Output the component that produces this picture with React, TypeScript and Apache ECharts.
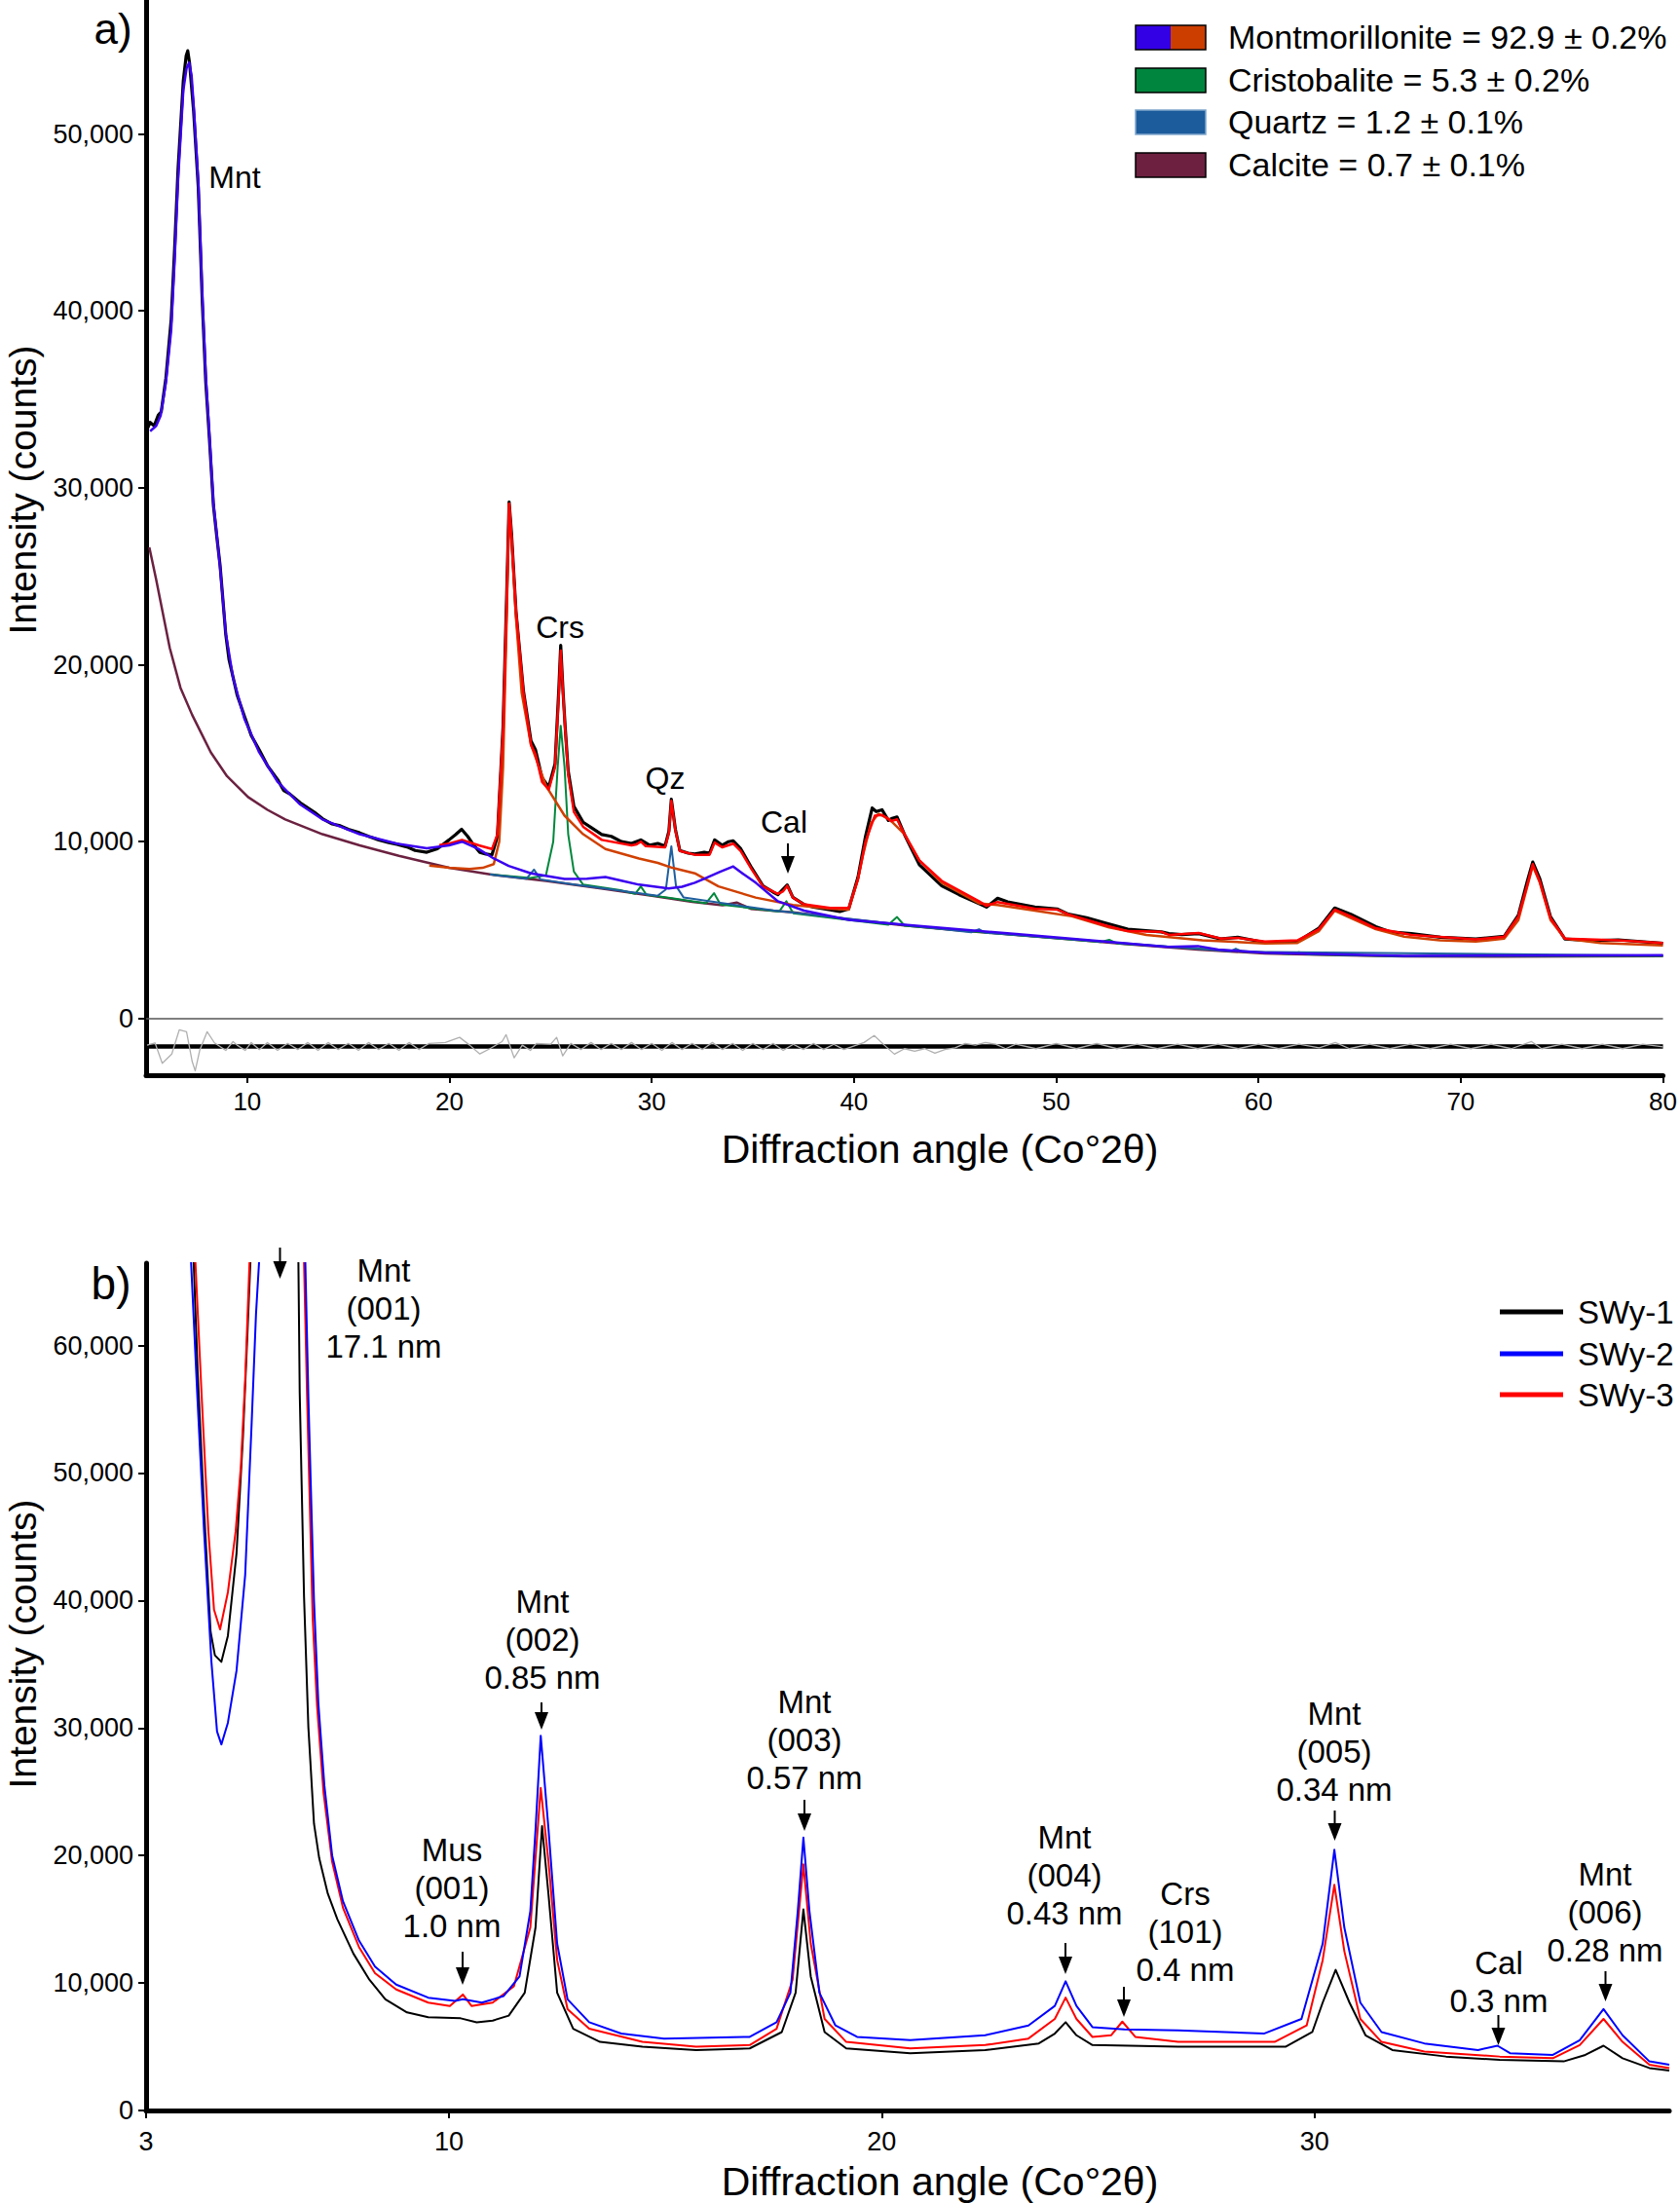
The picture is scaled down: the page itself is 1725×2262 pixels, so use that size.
import React, { useEffect, useRef } from "react";
import * as echarts from "echarts";

const FONT = "'Liberation Sans', Arial, Helvetica, sans-serif";

// ---------------- Panel a data (Co °2θ, counts) ----------------
const xTicksA = [10, 20, 30, 40, 50, 60, 70, 80];
const yTicksA = [0, 10000, 20000, 30000, 40000, 50000];

const observedA: number[][] = [
  [5.05, 33300], [5.2, 33700], [5.4, 33500], [5.6, 34100], [5.75, 34300], [5.98, 36200], [6.24, 39500],
  [6.41, 43500], [6.58, 48000], [6.84, 53000], [6.98, 54400], [7.06, 54700], [7.15, 54000], [7.35, 51300],
  [7.58, 47000], [7.78, 40500], [7.95, 36000], [8.13, 32800], [8.33, 29000], [8.5, 27200], [8.66, 25600],
  [8.94, 21700], [9.1, 20300], [9.3, 19300], [9.5, 18300], [9.86, 17100], [10.2, 16000], [10.59, 15200],
  [11.0, 14300], [11.51, 13500], [11.8, 12900], [12.1, 12700], [12.62, 12200], [13.0, 11900], [13.4, 11600],
  [13.72, 11300], [14.2, 11000], [14.6, 10900], [15.0, 10700], [15.56, 10500], [16.0, 10300], [16.5, 10100],
  [17.0, 9950], [17.4, 9850], [17.9, 9700], [18.3, 9500], [18.88, 9400], [19.4, 9600], [19.98, 10100],
  [20.3, 10400], [20.6, 10700], [20.9, 10300], [21.2, 9800], [21.5, 9400], [21.8, 9300], [22.1, 9250],
  [22.37, 10300], [22.65, 16500], [22.83, 24000], [22.95, 29200], [23.07, 27400], [23.29, 23000],
  [23.66, 18500], [24.03, 15700], [24.25, 15200], [24.58, 13600], [24.91, 13100], [25.22, 14400],
  [25.41, 18700], [25.5, 21100], [25.62, 18400], [25.72, 16500], [25.87, 14000], [26.15, 12000],
  [26.61, 11100], [27.0, 10800], [27.53, 10400], [28.0, 10300], [28.5, 10000], [29.0, 9900], [29.46, 10100],
  [29.9, 9800], [30.3, 9900], [30.66, 9750], [30.85, 10600], [30.97, 12400], [31.17, 10700], [31.39, 9500],
  [31.8, 9350], [32.13, 9300], [32.6, 9400], [32.86, 9350], [33.11, 10100], [33.48, 9800], [33.8, 10000],
  [34.03, 10050], [34.4, 9600], [34.95, 8500], [35.5, 7500], [36.0, 7150], [36.24, 7000], [36.7, 7550],
  [36.98, 6850], [37.53, 6450], [38.0, 6300], [38.82, 6150], [39.3, 6050], [39.74, 6200], [40.2, 8000],
  [40.57, 10300], [40.9, 11900], [41.1, 11700], [41.39, 11800], [41.7, 11200], [41.85, 11300], [42.13, 11400],
  [42.5, 10400], [43.23, 8700], [44.34, 7500], [45.2, 7000], [46.18, 6500], [46.55, 6300], [47.1, 6800],
  [47.6, 6600], [48.94, 6300], [50.04, 6200], [50.6, 5900], [51.5, 5700], [52.44, 5400], [53.54, 5050],
  [55.2, 4900], [55.57, 4800], [56.2, 4750], [57.04, 4800], [58.14, 4500], [58.97, 4600], [60.32, 4300],
  [61.92, 4350], [62.98, 5100], [63.77, 6250], [64.56, 5900], [65.8, 5200], [66.5, 4900], [67.56, 4800],
  [69.0, 4600], [70.74, 4500], [72.15, 4650], [72.85, 5850], [73.3, 7800], [73.56, 8850], [73.91, 7900],
  [74.44, 5750], [75.15, 4500], [76.5, 4400], [77.79, 4450], [80.0, 4250],
];

const calculatedA: number[][] = [
  [19.5, 9800], [19.98, 9890], [20.62, 10100], [21.45, 9790], [22.1, 9580], [22.37, 10420], [22.65, 16310],
  [22.83, 23680], [22.95, 29100], [23.07, 27200], [23.29, 23050], [23.66, 18420], [24.03, 15470],
  [24.25, 14950], [24.58, 13370], [24.91, 12950], [25.22, 14210], [25.41, 18420], [25.5, 20800],
  [25.62, 18300], [25.72, 16370], [25.87, 13790], [26.15, 11680], [26.61, 10840], [27.53, 10100],
  [29.0, 9790], [29.25, 9850], [29.46, 10000], [29.7, 9750], [30.66, 9680], [30.85, 10500], [30.97, 12310],
  [31.17, 10630], [31.39, 9470], [32.13, 9260], [32.86, 9260], [33.11, 9950], [33.48, 9680], [34.03, 9890],
  [34.4, 9470], [34.95, 8420], [35.5, 7470], [36.24, 7050], [36.5, 7200], [36.7, 7510], [36.98, 6840],
  [37.53, 6460], [38.82, 6250], [39.74, 6250], [40.2, 7890], [40.57, 10000], [41.03, 11470], [41.39, 11510],
  [41.85, 11160], [42.13, 11260], [42.5, 10420], [43.23, 8940], [44.34, 7780], [46.18, 6630], [46.55, 6370],
  [47.1, 6590], [48.94, 6210], [50.04, 6160], [50.6, 5890], [52.44, 5260], [53.54, 4940], [55.2, 4900],
  [55.57, 4730], [57.04, 4840], [58.14, 4520], [58.97, 4560], [60.32, 4350], [61.92, 4420], [62.98, 5050],
  [63.77, 6160], [64.56, 5780], [65.8, 5110], [67.56, 4730], [70.74, 4480], [72.15, 4630], [72.85, 5780],
  [73.3, 7600], [73.56, 8730], [73.91, 7750], [74.44, 5680], [75.15, 4520], [77.79, 4420], [80.0, 4270],
];

const montmorillonite1A: number[][] = [
  [5.2, 33200], [5.5, 33500], [5.72, 34080], [5.98, 35950], [6.24, 38900], [6.41, 42830], [6.58, 47350],
  [6.84, 52460], [7.0, 53700], [7.13, 54030], [7.25, 53300], [7.35, 51670], [7.58, 47350], [7.78, 40860],
  [7.95, 36340], [8.13, 33000], [8.33, 29100], [8.5, 27300], [8.66, 25500], [8.94, 21790], [9.3, 19260],
  [9.86, 16950], [10.59, 15050], [11.51, 13370], [12.62, 12100], [13.72, 11260], [15.56, 10420],
  [17.4, 9890], [18.88, 9620], [19.98, 9790], [20.62, 10000], [21.45, 9580], [22.19, 9050], [22.93, 8630],
  [24.03, 8210], [25.69, 7890], [26.8, 7900], [27.71, 8000], [28.5, 7800], [29.37, 7570], [30.84, 7360],
  [31.5, 7450], [32.13, 7680], [32.56, 7890], [33.38, 8300], [34.03, 8600], [34.5, 8200], [35.14, 7680],
  [36.24, 6630], [37.53, 6100], [39.74, 5580], [42.5, 5300], [48.02, 4780], [53.54, 4250], [55.5, 4050],
  [57.0, 4100], [58.0, 3900], [60.32, 3720], [67.2, 3540], [80.0, 3580],
];

const montmorillonite2A: number[][] = [
  [19.0, 8650], [20.0, 8520], [21.0, 8450], [21.64, 8520], [22.19, 8730], [22.46, 10000], [22.65, 14210],
  [22.83, 22630], [22.95, 29100], [23.07, 27000], [23.29, 22630], [23.57, 18420], [24.03, 15470],
  [24.77, 13160], [25.69, 11470], [26.61, 10420], [27.71, 9580], [29.37, 9050], [30.3, 8800], [31.02, 8520],
  [32.13, 8210], [33.3, 7470], [35.14, 6840], [36.98, 6420], [38.82, 6210], [39.74, 6160], [40.2, 7890],
  [40.47, 9360], [40.84, 11050], [41.21, 11580], [41.76, 11260], [42.5, 10420], [43.23, 8940], [44.34, 7680],
  [46.18, 6520], [47.1, 6420], [48.94, 6100], [50.78, 5780], [52.62, 5150], [54.46, 4730], [57.22, 4420],
  [60.32, 4250], [61.9, 4270], [62.98, 4940], [63.77, 6100], [64.56, 5680], [65.8, 5050], [67.21, 4630],
  [68.97, 4420], [70.74, 4350], [72.15, 4520], [72.85, 5570], [73.29, 7470], [73.56, 8630], [73.91, 7680],
  [74.44, 5570], [75.15, 4520], [76.91, 4270], [80.0, 4140],
];

const cristobaliteA: number[][] = [
  [22.0, 8150], [24.0, 7950], [24.77, 8100], [25.13, 10000], [25.35, 14210], [25.5, 16550], [25.69, 14210],
  [25.87, 10420], [26.15, 8310], [26.61, 7570], [28.45, 7260], [29.18, 7050], [29.46, 7470], [29.74, 7000],
  [31.0, 6800], [32.68, 6520], [33.08, 7090], [33.4, 6450], [36.3, 6050], [36.66, 6630], [37.0, 5950],
  [41.7, 5300], [42.13, 5740], [42.5, 5250], [52.2, 4330], [52.62, 4450], [53.0, 4250], [61.5, 3650],
  [62.0, 3750], [62.5, 3630], [67.2, 3520], [80.0, 3540],
];

const quartzA: number[][] = [
  [22.0, 8150], [23.8, 7900], [24.18, 8420], [24.5, 7860], [26.0, 7600], [28.0, 7300], [30.29, 6940],
  [30.7, 7300], [30.97, 9740], [31.2, 7500], [31.58, 6840], [36.0, 6120], [45.8, 4880], [46.18, 5050],
  [46.5, 4850], [58.6, 3800], [58.88, 3950], [59.2, 3780], [80.0, 3550],
];

const calciteA: number[][] = [
  [5.16, 26630], [5.5, 24800], [6.17, 20950], [6.7, 18700], [7.28, 17160], [8.2, 15050], [9.0, 13700],
  [10.04, 12520], [11.0, 11800], [11.88, 11260], [13.72, 10420], [15.56, 9790], [17.5, 9200], [19.98, 8520],
  [22.0, 8150], [24.77, 7780], [27.5, 7350], [30.01, 6940], [32.0, 6600], [33.5, 6400], [34.2, 6560],
  [34.9, 6200], [36.98, 6000], [39.5, 5650], [42.5, 5260], [45.0, 5000], [48.02, 4730], [51.0, 4450],
  [53.54, 4200], [57.0, 3900], [60.32, 3680], [64.0, 3580], [67.2, 3510], [72.0, 3500], [80.0, 3530],
];

const residualA: number[][] = [
  [5.05, -1500], [5.44, -1370], [5.8, -2530], [6.27, -2000], [6.64, -640], [7.0, -740], [7.28, -2430],
  [7.43, -2950], [7.65, -1800], [8.02, -740], [8.38, -1370], [8.94, -1800], [9.3, -1300], [9.5, -1500],
  [9.9, -1800], [10.2, -1350], [10.6, -1750], [11.0, -1350], [11.5, -1800], [12.0, -1400], [12.5, -1750],
  [13.0, -1350], [13.5, -1800], [14.0, -1350], [14.5, -1750], [15.0, -1400], [15.5, -1800], [16.0, -1350],
  [16.5, -1750], [17.0, -1400], [17.5, -1800], [18.0, -1350], [18.5, -1750], [19.0, -1400], [19.8, -1350],
  [20.5, -1060], [21.0, -1500], [21.5, -2000], [22.0, -1700], [22.6, -1300], [22.8, -910], [23.2, -2220],
  [23.6, -1500], [24.0, -1800], [24.3, -1400], [25.0, -1450], [25.3, -1060], [25.6, -2110], [26.0, -1400],
  [26.5, -1750], [27.0, -1350], [27.5, -1750], [28.0, -1400], [28.5, -1750], [29.0, -1350], [29.5, -1750],
  [30.0, -1400], [30.5, -1800], [31.0, -1350], [31.5, -1750], [32.0, -1400], [32.5, -1750], [33.0, -1350],
  [33.5, -1750], [34.0, -1400], [34.5, -1800], [35.0, -1400], [35.5, -1750], [36.0, -1400], [36.5, -1800],
  [37.0, -1450], [37.5, -1750], [38.0, -1400], [38.5, -1750], [39.0, -1450], [39.5, -1750], [40.5, -1350],
  [41.0, -960], [41.5, -1500], [42.0, -2010], [42.5, -1700], [43.0, -1850], [43.5, -1700], [44.0, -1950],
  [44.5, -1750], [45.0, -1650], [45.5, -1400], [46.0, -1500], [46.5, -1350], [47.0, -1450], [47.5, -1700],
  [48.0, -1450], [49.0, -1700], [50.0, -1400], [51.0, -1700], [52.0, -1400], [53.0, -1700], [54.0, -1450],
  [55.0, -1700], [56.0, -1450], [57.0, -1700], [58.0, -1450], [59.0, -1700], [60.0, -1450], [61.0, -1700],
  [62.0, -1450], [63.0, -1650], [63.8, -1350], [64.5, -1700], [65.5, -1450], [66.5, -1700], [67.5, -1450],
  [68.5, -1700], [69.5, -1450], [70.5, -1700], [71.5, -1450], [72.5, -1700], [73.5, -1300], [74.0, -1700],
  [75.0, -1450], [76.0, -1700], [77.0, -1450], [78.0, -1700], [79.0, -1450], [80.0, -1600],
];
const residualZero = -1560;

const legendLabelsA = [
  "Montmorillonite = 92.9 ± 0.2%",
  "Cristobalite = 5.3 ± 0.2%",
  "Quartz = 1.2 ± 0.1%",
  "Calcite = 0.7 ± 0.1%",
];

// ---------------- Panel b data ----------------
const xTicksB = [3, 10, 20, 30];
const yTicksB = [0, 10000, 20000, 30000, 40000, 50000, 60000];
const seriesNamesB = ["SWy-1", "SWy-2", "SWy-3"];

const swy1: number[][] = [
  [3.8, 85000], [4.1, 66500], [4.19, 58030], [4.34, 47120], [4.49, 37570], [4.59, 35700], [4.74, 35190],
  [4.89, 37230], [5.09, 43710], [5.24, 52920], [5.34, 60760], [5.41, 66500], [6.1, 120000], [6.52, 66500],
  [6.55, 56330], [6.65, 40300], [6.75, 30070], [6.88, 22500], [7.0, 19800], [7.2, 17000], [7.42, 15000],
  [7.79, 12310], [8.16, 10260], [8.53, 8720], [9.03, 7690], [9.52, 7310], [10.27, 7230], [10.64, 6920],
  [11.01, 7050], [11.38, 7440], [11.75, 9230], [12.0, 14360], [12.15, 22310], [12.3, 16920], [12.5, 9230],
  [12.87, 6410], [13.49, 5380], [14.47, 5000], [15.71, 4740], [16.95, 4870], [17.69, 6150], [18.01, 9230],
  [18.19, 15770], [18.36, 10510], [18.68, 6150], [19.18, 4870], [20.66, 4490], [22.39, 4740], [23.63, 5260],
  [24.0, 6030], [24.25, 6920], [24.5, 5900], [24.87, 5130], [26.85, 5000], [29.33, 5000], [29.95, 6150],
  [30.19, 8460], [30.49, 11030], [30.81, 8460], [31.18, 5900], [31.8, 4740], [33.04, 4230], [34.28, 3970],
  [35.76, 3850], [36.26, 4360], [36.68, 5080], [37.12, 4100], [37.74, 3330], [38.2, 3130],
];

const swy2: number[][] = [
  [3.8, 90000], [4.04, 66500], [4.19, 55650], [4.34, 45420], [4.51, 35190], [4.64, 29730], [4.74, 28710],
  [4.89, 30410], [5.09, 34500], [5.29, 42000], [5.44, 53940], [5.54, 62460], [5.61, 66500], [6.1, 130000],
  [6.68, 66500], [6.75, 56000], [6.88, 40000], [6.98, 32000], [7.12, 25500], [7.3, 20000], [7.55, 16410],
  [7.92, 13330], [8.29, 11280], [8.78, 9870], [9.52, 8850], [10.14, 8590], [10.32, 8720], [10.76, 8460],
  [11.26, 8970], [11.63, 10510], [11.88, 15640], [12.0, 22050], [12.12, 29400], [12.3, 22050], [12.5, 13080],
  [12.74, 8720], [13.24, 6920], [13.98, 6030], [14.97, 5640], [16.95, 5770], [17.57, 6920], [17.89, 9230],
  [18.06, 15640], [18.19, 21400], [18.33, 15640], [18.56, 9230], [18.93, 6670], [19.43, 5770], [20.66, 5510],
  [22.39, 5900], [23.39, 6670], [24.0, 8200], [24.25, 10130], [24.5, 8200], [24.87, 6540], [25.61, 6360],
  [26.85, 6280], [28.83, 6030], [29.7, 7180], [30.19, 13080], [30.46, 20450], [30.69, 14360], [31.06, 8460],
  [31.55, 6150], [32.54, 5260], [33.78, 4740], [34.23, 5080], [34.52, 4490], [35.51, 4360], [36.13, 5510],
  [36.68, 7950], [37.12, 5900], [37.74, 3850], [38.2, 3590],
];

const swy3: number[][] = [
  [3.8, 88000], [4.14, 66500], [4.29, 55650], [4.44, 45420], [4.57, 39280], [4.71, 37740], [4.89, 40640],
  [5.07, 45420], [5.19, 50530], [5.29, 57350], [5.39, 66500], [6.1, 125000], [6.65, 66500], [6.72, 56000],
  [6.85, 38600], [6.95, 31780], [7.1, 24960], [7.3, 19490], [7.55, 15900], [7.92, 12820], [8.29, 10770],
  [8.78, 9490], [9.52, 8460], [10.02, 8200], [10.32, 9100], [10.52, 8200], [11.01, 8460], [11.5, 9740],
  [11.88, 14360], [12.12, 25300], [12.3, 19490], [12.5, 11790], [12.74, 7950], [13.24, 6410], [14.47, 5380],
  [15.71, 5000], [16.95, 5130], [17.57, 6410], [17.94, 10260], [18.19, 19300], [18.36, 13080], [18.68, 7180],
  [19.18, 5380], [20.66, 4870], [22.39, 5130], [23.39, 5640], [24.0, 7180], [24.25, 8850], [24.5, 7180],
  [24.87, 5770], [25.3, 5900], [25.56, 6970], [25.86, 5770], [26.85, 5380], [29.08, 5380], [29.82, 6670],
  [30.19, 11790], [30.46, 17700], [30.69, 12500], [31.06, 7180], [31.55, 5380], [32.54, 4620], [34.28, 4230],
  [35.51, 4100], [36.13, 5130], [36.68, 7180], [37.12, 5380], [37.74, 3590], [38.2, 3330],
];

// ---------------- Annotation texts ----------------
const annotTextsA = ["Mnt", "Crs", "Qz", "Cal"];
const annotTextsB = [
  "Mnt\n(001)\n17.1 nm", "Mnt\n(002)\n0.85 nm", "Mus\n(001)\n1.0 nm", "Mnt\n(003)\n0.57 nm",
  "Mnt\n(004)\n0.43 nm", "Crs\n(101)\n0.4 nm", "Mnt\n(005)\n0.34 nm", "Cal\n0.3 nm", "Mnt\n(006)\n0.28 nm",
];

// layout (pixels)
const annotPosA = [[241, 182], [575, 644], [683, 799], [805, 844]];
const annotPosB = [[394, 1343], [557, 1683], [464, 1938], [826, 1786], [1093, 1925], [1217, 1983], [1370, 1798], [1539, 2035], [1648, 1963]];
const arrowsA = [[809, 866, 897]];
const arrowsB = [[287.5, 1281, 1313], [556, 1748, 1776], [475, 2004, 2038], [826, 1848, 1880], [1094, 1995, 2027], [1154, 2040, 2071], [1370.5, 1859, 1890], [1538.5, 2069, 2100], [1648.5, 2024, 2055]];

const fmt = (v: number) => (v === 0 ? "0" : v.toLocaleString("en-US"));

function arrow(x: number, y1: number, y2: number) {
  const head = 18;
  return [
    { type: "line", shape: { x1: x, y1, x2: x, y2: y2 - head + 2 }, style: { stroke: "#000", lineWidth: 2 }, z: 50 },
    { type: "polygon", shape: { points: [[x - 7, y2 - head], [x + 7, y2 - head], [x, y2]] }, style: { fill: "#000" }, z: 50 },
  ];
}

function text(t: string, x: number, y: number, size: number, align = "center", extra: any = {}) {
  return {
    type: "text", x, y, z: 60,
    style: { text: t, fill: "#000", font: `${size}px ${FONT}`, align, verticalAlign: "middle", ...extra },
  };
}

function lineSeries(name: string, data: number[][], color: string, width: number, axis: number, z: number) {
  return {
    type: "line", name, data, xAxisIndex: axis, yAxisIndex: axis, showSymbol: false, symbol: "none",
    lineStyle: { color, width, join: "round" }, z, silent: true, clip: true,
  };
}

function axisCommon(ticks: number[], size: number, margin: number) {
  return {
    axisLine: { show: true, onZero: false, lineStyle: { color: "#000", width: 5 } },
    axisTick: { show: true, customValues: ticks, length: 8, inside: false, lineStyle: { color: "#000", width: 2 } },
    axisLabel: { customValues: ticks, formatter: fmt, fontSize: size, color: "#000", fontFamily: FONT, margin },
    splitLine: { show: false },
  };
}

export default function App() {
  const ref = useRef<HTMLDivElement>(null);
  useEffect(() => {
    if (!ref.current) return;
    const chart = echarts.init(ref.current, null, { renderer: "svg" });

    const graphics: any[] = [];
    // panel labels
    graphics.push(text("a)", 116, 29, 44));
    graphics.push(text("b)", 114, 1318, 46));
    // axis titles
    graphics.push(text("Diffraction angle (Co°2θ)", 965, 1180, 41));
    graphics.push(text("Diffraction angle (Co°2θ)", 965, 2240, 41));
    graphics.push({ type: "text", x: 23, y: 503, rotation: Math.PI / 2, z: 60, style: { text: "Intensity (counts)", fill: "#000", font: `39px ${FONT}`, align: "center", verticalAlign: "middle" } });
    graphics.push({ type: "text", x: 23, y: 1688, rotation: Math.PI / 2, z: 60, style: { text: "Intensity (counts)", fill: "#000", font: `39px ${FONT}`, align: "center", verticalAlign: "middle" } });
    // annotations
    annotTextsA.forEach((t, i) => graphics.push(text(t, annotPosA[i][0], annotPosA[i][1], 32)));
    arrowsA.forEach((a) => graphics.push(...arrow(a[0], a[1], a[2])));
    annotTextsB.forEach((t, i) => graphics.push(text(t, annotPosB[i][0], annotPosB[i][1], 33, "center", { lineHeight: 39 })));
    arrowsB.forEach((a) => graphics.push(...arrow(a[0], a[1], a[2])));

    // legend a
    const legA = [
      { y: 26, fills: ["#3300e6", "#cc3d00"], stroke: "#000" },
      { y: 70, fills: ["#00853e"], stroke: "#000" },
      { y: 113, fills: ["#1c5c9c"], stroke: "#7fa6cc" },
      { y: 157, fills: ["#6d2040"], stroke: "#000" },
    ];
    legA.forEach((l, i) => {
      const x0 = 1166, w = 72, h = 25;
      if (l.fills.length === 2) {
        graphics.push({ type: "rect", shape: { x: x0, y: l.y, width: w / 2, height: h }, style: { fill: l.fills[0] }, z: 55 });
        graphics.push({ type: "rect", shape: { x: x0 + w / 2, y: l.y, width: w / 2, height: h }, style: { fill: l.fills[1] }, z: 55 });
      } else {
        graphics.push({ type: "rect", shape: { x: x0, y: l.y, width: w, height: h }, style: { fill: l.fills[0] }, z: 55 });
      }
      graphics.push({ type: "rect", shape: { x: x0, y: l.y, width: w, height: h }, style: { fill: "none", stroke: l.stroke, lineWidth: 1.5 }, z: 56 });
      graphics.push(text(legendLabelsA[i], 1261, l.y + h / 2 - 1, 34, "left"));
    });

    // legend b
    const legBColors = ["#000000", "#0000ff", "#ff0000"];
    const legBY = [1347, 1390, 1432];
    seriesNamesB.forEach((n, i) => {
      graphics.push({ type: "line", shape: { x1: 1540, y1: legBY[i], x2: 1605, y2: legBY[i] }, style: { stroke: legBColors[i], lineWidth: 5 }, z: 55 });
      graphics.push(text(n, 1620, legBY[i], 33, "left"));
    });

    const option: any = {
      animation: false,
      backgroundColor: "#ffffff",
      textStyle: { fontFamily: FONT },
      grid: [
        { left: 150, top: 0, width: 1559, height: 1104, containLabel: false },
        { left: 150, top: 1297, width: 1564, height: 870, containLabel: false },
      ],
      xAxis: [
        { type: "value", gridIndex: 0, min: 5, max: 80, position: "bottom", ...axisCommon(xTicksA, 26, 14) },
        { type: "value", gridIndex: 1, min: 3, max: 38.2, position: "bottom", ...axisCommon(xTicksB, 27, 18) },
      ],
      yAxis: [
        { type: "value", gridIndex: 0, min: -3200, max: 57570, position: "left", ...axisCommon(yTicksA, 27, 13) },
        { type: "value", gridIndex: 1, min: 0, max: 66460, position: "left", ...axisCommon(yTicksB, 27, 13) },
      ],
      series: [
        // panel a
        lineSeries("Observed", observedA, "#000000", 3.2, 0, 2),
        lineSeries("Calcite", calciteA, "#6b2140", 2.5, 0, 3),
        lineSeries("Cristobalite", cristobaliteA, "#00873c", 2, 0, 4),
        lineSeries("Quartz", quartzA, "#1f5f9f", 2, 0, 5),
        lineSeries("Montmorillonite 2", montmorillonite2A, "#d04000", 2.5, 0, 6),
        lineSeries("Calculated", calculatedA, "#ff0000", 2.5, 0, 7),
        lineSeries("Montmorillonite 1", montmorillonite1A, "#3a00f0", 2.5, 0, 8),
        {
          ...lineSeries("Residual", residualA, "#b0b0b0", 1.3, 0, 3),
          markLine: {
            silent: true, symbol: "none", label: { show: false }, animation: false, z: 2,
            data: [
              { yAxis: 0, lineStyle: { color: "#555555", width: 1.5, type: "solid" } },
              { yAxis: residualZero, lineStyle: { color: "#000000", width: 4.5, type: "solid" } },
            ],
          },
        },
        // panel b
        lineSeries(seriesNamesB[0], swy1, "#000000", 2, 1, 3),
        lineSeries(seriesNamesB[2], swy3, "#ff0000", 2, 1, 4),
        lineSeries(seriesNamesB[1], swy2, "#0000ff", 2, 1, 5),
      ],
      graphic: { elements: graphics },
    };
    chart.setOption(option);
    return () => chart.dispose();
  }, []);

  return <div ref={ref} style={{ position: "absolute", left: 0, top: 0, width: 1725, height: 2262, background: "#fff" }} />;
}
